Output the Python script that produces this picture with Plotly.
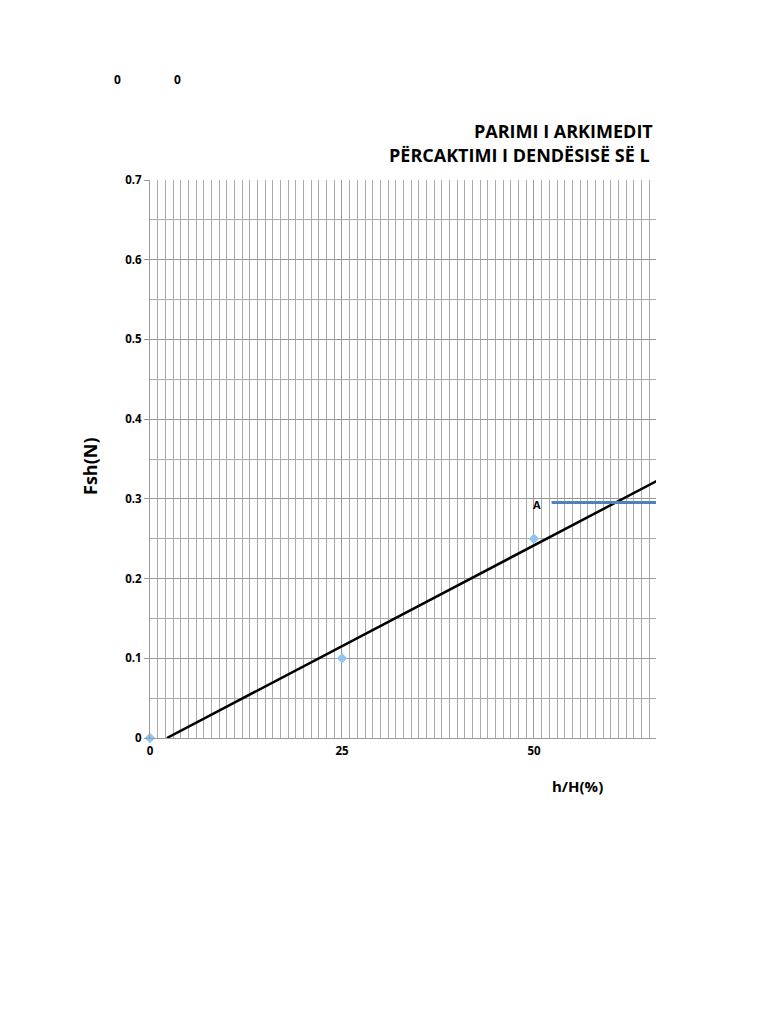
import plotly.graph_objects as go

# Data
pts_x = [0, 25, 50]
pts_y = [0.0, 0.1, 0.25]
trend_x = [2.2, 66.0]
trend_y = [0.0, 0.3225]
lineA_x = [52.3, 66.0]
lineA_y = [0.2955, 0.2955]
labelA = "A"
title_lines = ["PARIMI I ARKIMEDIT", "PËRCAKTIMI I DENDËSISË SË L"]
x_ticks = [0, 25, 50]
y_ticks = [0, 0.1, 0.2, 0.3, 0.4, 0.5, 0.6, 0.7]
y_tick_text = ["0", "0.1", "0.2", "0.3", "0.4", "0.5", "0.6", "0.7"]

OFF = 8  # page body margin
W, H = 656 - OFF, 1024 - OFF
L, R, T, B = 150 - OFF, 0, 180 - OFF, 286
FONT = "Open Sans"

def px(x):
    return (x - OFF - L) / (W - L - R)

def py(y):
    return 1 - (y - OFF - T) / (H - T - B)

fig = go.Figure()
fig.add_trace(go.Scatter(x=trend_x, y=trend_y, mode="lines",
                         line=dict(color="black", width=2.5), showlegend=False))
fig.add_trace(go.Scatter(x=lineA_x, y=lineA_y, mode="lines",
                         line=dict(color="#4F81BD", width=3), showlegend=False))
fig.add_trace(go.Scatter(x=pts_x, y=pts_y, mode="markers",
                         marker=dict(symbol="diamond", size=8, color="#92C4F0"),
                         showlegend=False, cliponaxis=False))

fig.add_annotation(x=50.4, y=lineA_y[0] - 0.002, text=f"<b>{labelA}</b>", showarrow=False,
                   font=dict(family=FONT, size=11, color="black"), xanchor="center", yanchor="middle")

fig.add_annotation(xref="paper", yref="paper", x=px(472), y=py(131), text=f"<b>{title_lines[0]}</b>",
                   showarrow=False, xanchor="left", yanchor="middle",
                   font=dict(family=FONT, size=18, color="black"))
fig.add_annotation(xref="paper", yref="paper", x=px(387), y=py(155), text=f"<b>{title_lines[1]}</b>",
                   showarrow=False, xanchor="left", yanchor="middle",
                   font=dict(family=FONT, size=18, color="black"))
for xx in (117, 177):
    fig.add_annotation(xref="paper", yref="paper", x=px(xx), y=py(79), text="<b>0</b>",
                       showarrow=False, xanchor="center", yanchor="middle",
                       font=dict(family=FONT, size=12, color="black"))
fig.add_annotation(xref="paper", yref="paper", x=px(90), y=py(466), text="<b>Fsh(N)</b>",
                   showarrow=False, textangle=-90, xanchor="center", yanchor="middle",
                   font=dict(family=FONT, size=18, color="black"))
fig.add_annotation(xref="paper", yref="paper", x=px(577), y=py(786), text="<b>h/H(%)</b>",
                   showarrow=False, xanchor="center", yanchor="middle",
                   font=dict(family=FONT, size=15, color="black"))

fig.update_xaxes(range=[0, 65.89], tickvals=x_ticks, ticktext=[f"<b>{v}</b>" for v in x_ticks],
                 showgrid=True, gridcolor="#999999", gridwidth=1,
                 minor=dict(dtick=1, tick0=0, showgrid=True, gridcolor="#AAAAAA", gridwidth=1),
                 showline=True, linecolor="#999999", linewidth=1, zeroline=False,
                 tickfont=dict(family=FONT, size=11.5, color="black"),
                 ticks="", ticklabelstandoff=2)
fig.update_yaxes(range=[0, 0.7], tickvals=y_ticks, ticktext=[f"<b>{t}</b>" for t in y_tick_text],
                 showgrid=True, gridcolor="#999999", gridwidth=1,
                 minor=dict(dtick=0.05, tick0=0, showgrid=True, gridcolor="#AAAAAA", gridwidth=1),
                 showline=True, linecolor="#999999", linewidth=1, zeroline=False,
                 ticks="outside", ticklen=5, tickcolor="#999999",
                 tickfont=dict(family=FONT, size=11.5, color="black"))

fig.update_layout(width=W, height=H, margin=dict(l=L, r=R, t=T, b=B),
                  plot_bgcolor="white", paper_bgcolor="white", showlegend=False)
fig.write_html("out.html")
